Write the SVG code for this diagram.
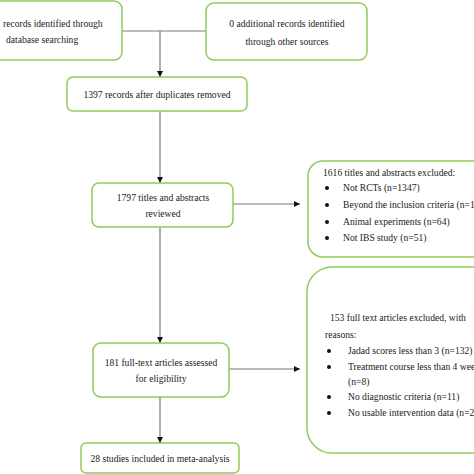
<svg xmlns="http://www.w3.org/2000/svg" width="474" height="474" viewBox="0 0 474 474">
<style>
.box{fill:#fff;stroke:#8fcb5a;stroke-width:1.5}
.c{text-anchor:middle}
.ln{stroke:#777;stroke-width:1.2;fill:none}
.b{fill:#111}
</style>
<defs>
<marker id="ah" viewBox="0 0 10 10" refX="10" refY="5" markerWidth="6" markerHeight="6" markerUnits="userSpaceOnUse" orient="auto">
<path d="M0,0 L10,5 L0,10 z" fill="#111"/>
</marker>
</defs>
<rect width="474" height="474" fill="#fff"/>
<g id="connectors">
<path class="ln" d="M122,31 H206"/>
<path class="ln" d="M160,31 V77" marker-end="url(#ah)"/>
<path class="ln" d="M160,111 V183" marker-end="url(#ah)"/>
<path class="ln" d="M233,204 H300" marker-end="url(#ah)"/>
<path class="ln" d="M160,227 V343" marker-end="url(#ah)"/>
<path class="ln" d="M229,369 H300" marker-end="url(#ah)"/>
<path class="ln" d="M160,397 V443" marker-end="url(#ah)"/>
</g>
<g font-family="Liberation Serif" font-size="9.6" fill="#222">
<g id="n1">
<rect class="box" x="-20" y="1" width="142" height="59" rx="8"/>
<text x="3" y="27">records identified through</text>
<text x="6" y="43">database searching</text>
</g>
<g id="n2">
<rect class="box" x="206" y="3" width="161" height="57" rx="8"/>
<text class="c" x="287" y="27">0 additional records identified</text>
<text class="c" x="287" y="45">through other sources</text>
</g>
<g id="n3">
<rect class="box" x="67" y="77" width="180" height="34" rx="6"/>
<text class="c" x="157" y="98">1397 records after duplicates removed</text>
</g>
<g id="n4">
<rect class="box" x="92" y="183" width="141" height="44" rx="7"/>
<text class="c" x="163" y="201">1797 titles and abstracts</text>
<text class="c" x="163" y="217">reviewed</text>
</g>
<g id="n5">
<rect class="box" x="308" y="161" width="190" height="96" rx="15"/>
<text x="323" y="176">1616 titles and abstracts excluded:</text>
<circle class="b" cx="327" cy="188" r="2"/>
<text x="343" y="191">Not RCTs (n=1347)</text>
<circle class="b" cx="327" cy="205" r="2"/>
<text x="343" y="208">Beyond the inclusion criteria (n=154)</text>
<circle class="b" cx="327" cy="222" r="2"/>
<text x="343" y="225">Animal experiments (n=64)</text>
<circle class="b" cx="327" cy="238" r="2"/>
<text x="343" y="241">Not IBS study (n=51)</text>
</g>
<g id="n6">
<rect class="box" x="307" y="267" width="200" height="186" rx="25"/>
<text x="330" y="321">153 full text articles excluded, with</text>
<text x="325" y="338">reasons:</text>
<circle class="b" cx="329" cy="351" r="2"/>
<text x="348" y="354">Jadad scores less than 3 (n=132)</text>
<circle class="b" cx="329" cy="367" r="2"/>
<text x="348" y="370">Treatment course less than 4 weeks</text>
<text x="348" y="385">(n=8)</text>
<circle class="b" cx="329" cy="397" r="2"/>
<text x="348" y="400">No diagnostic criteria (n=11)</text>
<circle class="b" cx="329" cy="413" r="2"/>
<text x="348" y="416">No usable intervention data (n=2)</text>
</g>
<g id="n7">
<rect class="box" x="93" y="343" width="136" height="54" rx="8"/>
<text class="c" x="161" y="366">181 full-text articles assessed</text>
<text class="c" x="161" y="382">for eligibility</text>
</g>
<g id="n8">
<rect class="box" x="81" y="443" width="158" height="30" rx="5"/>
<text class="c" x="160" y="462">28 studies included in meta-analysis</text>
</g>
</g>
</svg>
